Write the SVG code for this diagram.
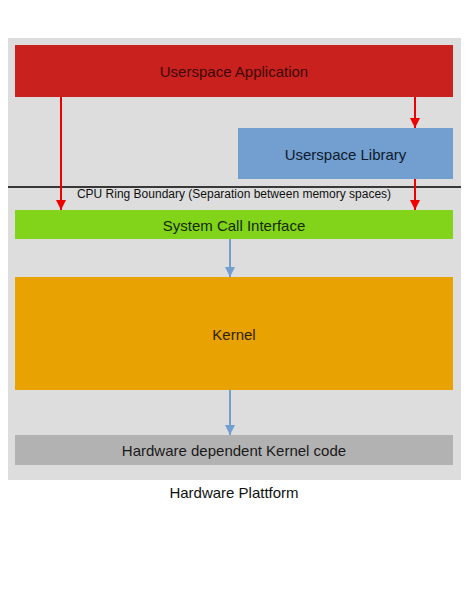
<svg xmlns="http://www.w3.org/2000/svg" width="474" height="613" viewBox="0 0 474 613">
<style>
text{font-family:"Liberation Sans",Arial,sans-serif;font-size:15px;text-anchor:middle;dominant-baseline:central}
.red{stroke:#ee0000;stroke-width:2;fill:none}
.blue{stroke:#729fcf;stroke-width:2;fill:none}
</style>
<defs>
<marker id="ar" viewBox="0 0 10 10" refX="10" refY="5" markerWidth="10" markerHeight="10" markerUnits="userSpaceOnUse" orient="auto"><path d="M0,0L10,5L0,10z" fill="#ee0000"/></marker>
<marker id="ab" viewBox="0 0 10 10" refX="10" refY="5" markerWidth="10" markerHeight="10" markerUnits="userSpaceOnUse" orient="auto"><path d="M0,0L10,5L0,10z" fill="#729fcf"/></marker>
</defs>
<rect width="474" height="613" fill="#fff"/>
<g id="platform">
<rect x="8" y="38" width="453" height="442" fill="#dddddd"/>
<text x="234" y="492" fill="#111">Hardware Plattform</text>
</g>
<g id="boundary">
<line x1="8" y1="187" x2="461" y2="187" stroke="#000" stroke-width="1.5"/>
<text x="234" y="194" font-size="12" style="font-size:12px" fill="#111">CPU Ring Boundary (Separation between memory spaces)</text>
</g>
<g id="app">
<rect x="15" y="45" width="438" height="52" fill="#c9211e"/>
<text x="234" y="71" fill="#3d0a09">Userspace Application</text>
</g>
<g id="lib">
<rect x="238" y="128" width="215" height="51" fill="#729fcf"/>
<text x="345.5" y="154" fill="#0d1a2e">Userspace Library</text>
</g>
<g id="syscall">
<rect x="15" y="210" width="438" height="29" fill="#81d41a"/>
<text x="234" y="225" fill="#142a00">System Call Interface</text>
</g>
<g id="kernel">
<rect x="15" y="277" width="438" height="113" fill="#e8a202"/>
<text x="234" y="334" fill="#2e1f00">Kernel</text>
</g>
<g id="hwcode">
<rect x="15" y="435" width="438" height="30" fill="#b2b2b2"/>
<text x="234" y="450" fill="#1a1a1a">Hardware dependent Kernel code</text>
</g>
<g id="connectors">
<line class="red" x1="61" y1="97" x2="61" y2="210" marker-end="url(#ar)"/>
<line class="red" x1="415" y1="97" x2="415" y2="128" marker-end="url(#ar)"/>
<line class="red" x1="415" y1="179" x2="415" y2="210" marker-end="url(#ar)"/>
<line class="blue" x1="230" y1="239" x2="230" y2="277" marker-end="url(#ab)"/>
<line class="blue" x1="230" y1="390" x2="230" y2="435" marker-end="url(#ab)"/>
</g>
</svg>
